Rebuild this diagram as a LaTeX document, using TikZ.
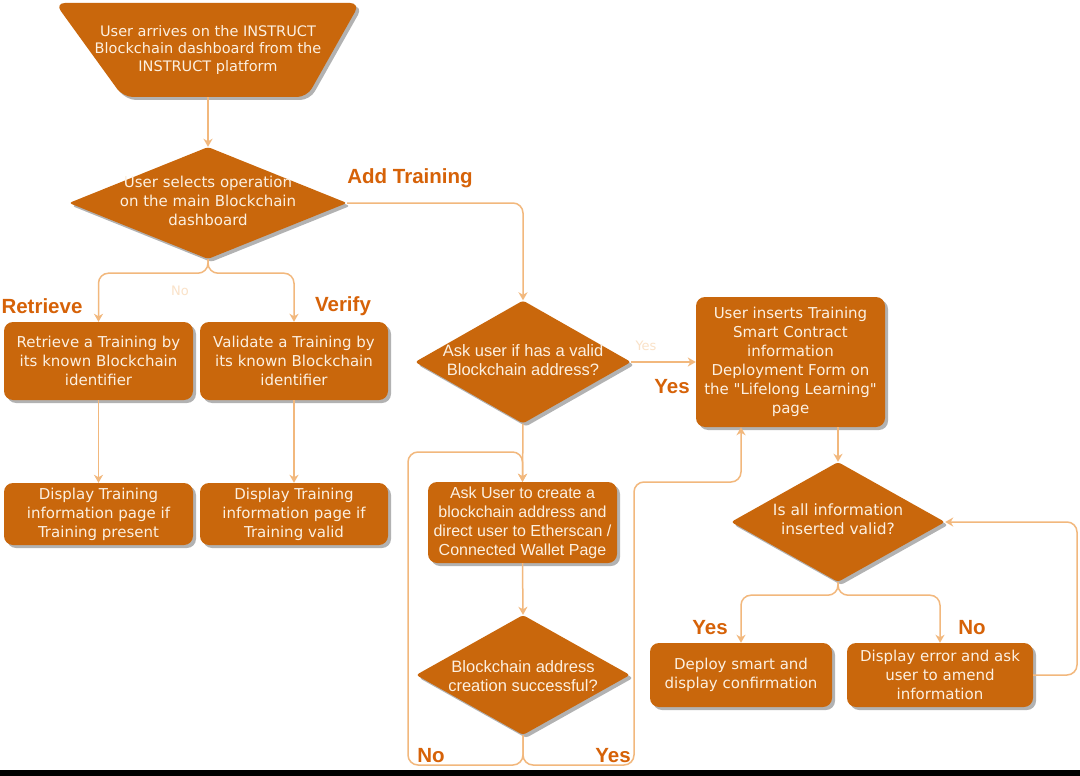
\documentclass[tikz,border=0pt]{standalone}
\usepackage{fontspec}
\setmainfont{DejaVu Sans}
\newfontfamily\arialf{Liberation Sans}
\usetikzlibrary{shapes.geometric,arrows.meta,shadows,calc}
\newcommand{\sq}{\XeTeXglyph\XeTeXglyphindex "quotedbl"\relax}
\definecolor{org}{RGB}{201,103,12}
\definecolor{tc}{RGB}{252,240,225}
\definecolor{lc}{RGB}{242,184,125}
\definecolor{lbc}{RGB}{214,98,8}
\definecolor{fc}{RGB}{250,226,200}
\tikzset{
 shad/.style={drop shadow={shadow xshift=3pt, shadow yshift=-3pt, fill=black, opacity=0.3}},
 box/.style={rectangle, rounded corners=9pt, fill=org, draw=none, inner sep=0pt, shad},
 dia/.style={diamond, fill=org, draw=none, inner sep=0pt, rounded corners=3pt, shad},
 txt/.style={text=tc, align=center, font=\fontsize{15}{19}\selectfont, inner sep=0pt},
 txta/.style={text=tc, align=center, font=\arialf\fontsize{16.5}{19}\selectfont, inner sep=0pt},
 conn/.style={draw=lc, line width=1.5pt, rounded corners=10pt, -{Stealth[length=8pt,width=9pt,inset=2.5pt]}},
 lab/.style={text=lbc, font=\arialf\bfseries\fontsize{20.5}{23}\selectfont, inner sep=0pt},
 faint/.style={text=fc, font=\fontsize{13}{15}\selectfont, inner sep=0pt},
}
\begin{document}
\begin{tikzpicture}[x=1pt,y=-1pt]
\useasboundingbox (0,0) rectangle (1080,776);
\fill[white] (0,0) rectangle (1080,776);

% top trapezoid
\path[fill=org, rounded corners=10pt, shad] (55,3) -- (360,3) -- (307,97) -- (123,97) -- cycle;
\node[txt, font=\fontsize{14.5}{17.5}\selectfont, minimum height=94pt] (start) at (208,50) {User arrives on the INSTRUCT\\Blockchain dashboard from the\\INSTRUCT platform};

% decision 1
\node[dia, minimum width=278pt, minimum height=112pt] (d1) at (208,203) {};
\node[txt] (d1t) at (208,201) {User selects operation\\on the main Blockchain\\dashboard};

% left boxes
\node[box, txt, minimum width=189pt, minimum height=78pt] (ret) at (98.5,361) {Retrieve a Training by\\its known Blockchain\\identifier};
\node[box, txt, minimum width=188pt, minimum height=78pt] (val) at (294,361) {Validate a Training by\\its known Blockchain\\identifier};
\node[box, txt, minimum width=189pt, minimum height=62pt] (disp1) at (98.5,514) {Display Training\\information page if\\Training present};
\node[box, txt, minimum width=188pt, minimum height=62pt] (disp2) at (294,514) {Display Training\\information page if\\Training valid};

% decision 2
\node[dia, minimum width=216pt, minimum height=123pt] (d2) at (523,362) {};
\node[txta] (d2t) at (523,360) {Ask user if has a valid\\Blockchain address?};

% ask box
\node[box, txta, font=\arialf\fontsize{16}{19}\selectfont, minimum width=189pt, minimum height=81pt] (ask) at (522.5,522.5) {Ask User to create a\\blockchain address and\\direct user to Etherscan /\\Connected Wallet Page};

% decision 4
\node[dia, minimum width=214pt, minimum height=120pt] (d4) at (523,675) {};
\node[txta] (d4t) at (523,676) {Blockchain address\\creation successful?};

% insert box
\node[box, txt, minimum width=189pt, minimum height=130pt] (ins) at (790.5,362) {User inserts Training\\Smart Contract\\information\\Deployment Form on\\the \sq Lifelong Learning\sq\\page};

% decision 3
\node[dia, minimum width=214pt, minimum height=120pt] (d3) at (838,522) {};
\node[txt, font=\fontsize{15.5}{19}\selectfont] (d3t) at (838,519) {Is all information\\inserted valid?};

\node[box, txt, minimum width=182pt, minimum height=64pt] (dep) at (741,675) {Deploy smart and\\display confirmation};
\node[box, txt, minimum width=186pt, minimum height=64pt] (err) at (940,675) {Display error and ask\\user to amend\\information};

% coordinates
\coordinate (j4) at (523,765);
\coordinate (lft) at (408,452);
\coordinate (rgt) at (634,482);
\coordinate (rl) at (1077,600);

% connectors
\draw[conn] (start.south) -- (d1.north);
\draw[conn] (d1.south) -- ++(0,14) -| (ret.north);
\draw[conn] (d1.south) -- ++(0,14) -| (val.north);
\draw[conn] (ret.south) -- (disp1.north);
\draw[conn] (val.south) -- (disp2.north);
\draw[conn] (d1.east) -| (d2.north);
\draw[conn] (d2.east) -- (ins.west);
\draw[conn] (d2.south) -- (ask.north);
\draw[conn] (ask.south) -- (d4.north);
\draw[conn] (d4.south) -- (j4) -| (lft) -| (ask.north);
\draw[conn] (d4.south) -- (j4) -| (rgt) -| (ins.south -| dep.north);
\draw[conn] (ins.south -| d3.north) -- (d3.north);
\draw[conn] (d3.south) -- ++(0,13) -| (dep.north);
\draw[conn] (d3.south) -- ++(0,13) -| (err.north);
\draw[conn] (err.east) -- (err.east -| rl) -- (d3.east -| rl) -- (d3.east);

% labels
\node[lab] (lAdd) at (410,178) {Add Training};
\node[lab] (lRet) at (42,306) {Retrieve};
\node[lab] (lVer) at (343,306) {Verify};
\node[lab] (lYes1) at (672,387) {Yes};
\node[lab] (lNo2) at (431,756) {No};
\node[lab] (lYes2) at (613,756) {Yes};
\node[lab] (lYes3) at (710,628) {Yes};
\node[lab] (lNo3) at (972,628) {No};
\node[faint] (fNo) at (180,291) {No};
\node[faint] (fYes) at (646,346) {Yes};

% bottom band
\fill[black] (0,770) rectangle (1080,776);
\end{tikzpicture}
\end{document}
